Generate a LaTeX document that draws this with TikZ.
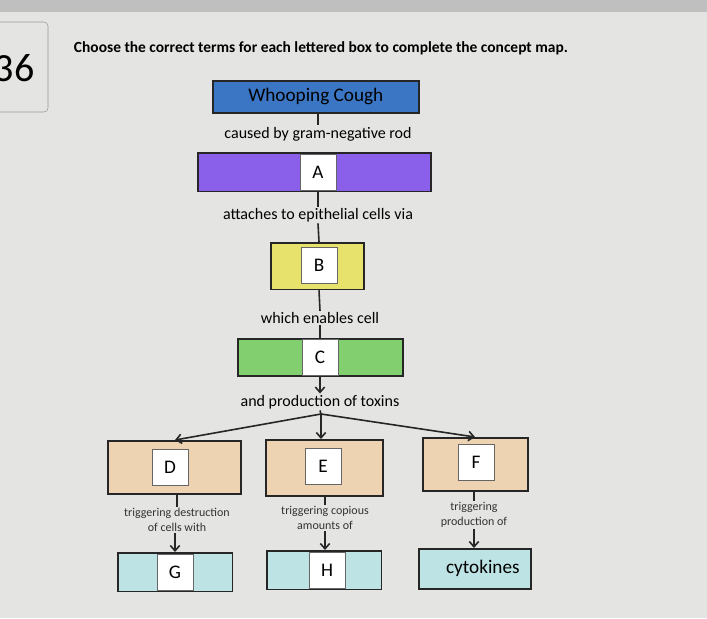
\documentclass[tikz,border=0pt]{standalone}
\usepackage{fontspec}
\setmainfont{Carlito}
\usetikzlibrary{arrows.meta}
\definecolor{bg}{HTML}{E4E4E2}
\definecolor{wc}{HTML}{3B76C4}
\definecolor{pa}{HTML}{8A5FEA}
\definecolor{yb}{HTML}{E6E26C}
\definecolor{gb}{HTML}{82CF70}
\definecolor{tb}{HTML}{EDD3B2}
\definecolor{lb}{HTML}{BEE3E4}
\tikzset{
 outer/.style={draw=black!85,line width=1.2pt,anchor=north west,inner sep=0pt},
 inner/.style={draw=black!60,fill=white,minimum width=27pt,minimum height=27pt,font=\Large},
 lbl/.style={font=\large,inner sep=1pt},
 slbl/.style={font=\small,align=center,inner sep=1pt,text=black!80},
 ln/.style={line width=1.2pt,black!85},
 ar/.style={ln,-{Straight Barb[length=4pt,width=7pt]}}
}
\begin{document}
\begin{tikzpicture}[x=0.75pt,y=-0.75pt]
\useasboundingbox (0,0) rectangle (707,618);
\fill[bg] (0,0) rectangle (707,618);
\fill[black!25] (0,0) rectangle (707,12);
\draw[black!40,rounded corners=3pt] (-10,22) rectangle (48,112);
\node[font=\fontsize{30}{30}\selectfont] (n36) at (14,68) {36};
\node[font=\fontsize{11.6}{13}\selectfont\bfseries] (q) at (321,48) {Choose the correct terms for each lettered box to complete the concept map.};
% Whooping Cough
\node[outer,fill=wc,minimum width=154.5pt,minimum height=24pt,font=\Large] (wc) at (212,80) {Whooping Cough};
\node[lbl] (t1) at (318,134) {caused by gram-negative rod};
% A
\node[outer,fill=pa,minimum width=175pt,minimum height=29pt] (a) at (197,152) {};
\node[inner] (ai) at (318,172) {A};
\node[lbl] (t2) at (318,215) {attaches to epithelial cells via};
% B
\node[outer,fill=yb,minimum width=70pt,minimum height=35pt] (b) at (270,242) {};
\node[inner] (bi) at (319,265) {B};
\node[lbl] (t3) at (320,318) {which enables cell};
% C
\node[outer,fill=gb,minimum width=124pt,minimum height=28pt] (c) at (237,338) {};
\node[inner] (ci) at (320,357) {C};
\node[lbl] (t4) at (320,402) {and production of toxins};
\coordinate (br) at (321,414);
% D E F
\node[outer,fill=tb,minimum width=100pt,minimum height=40pt] (d) at (107,440) {};
\node[inner] (di) at (170,467) {D};
\node[outer,fill=tb,minimum width=88pt,minimum height=42pt] (e) at (265,439) {};
\node[inner] (ei) at (323,466) {E};
\node[outer,fill=tb,minimum width=79pt,minimum height=40pt] (f) at (422,437) {};
\node[inner] (fi) at (476,462) {F};
\node[slbl] (t5) at (177,520) {triggering destruction\\of cells with};
\node[slbl] (t6) at (325,518) {triggering copious\\amounts of};
\node[slbl] (t7) at (474,515) {triggering\\production of};
% G H cytokines
\node[outer,fill=lb,minimum width=86pt,minimum height=29pt] (g) at (117,552) {};
\node[inner] (gi) at (175,572) {G};
\node[outer,fill=lb,minimum width=86pt,minimum height=29pt] (h) at (266,550) {};
\node[inner] (hi) at (327,570) {H};
\node[outer,fill=lb,minimum width=84pt,minimum height=30pt,font=\Large] (cy) at (418,548) {\hspace{12pt}cytokines\hspace{12pt}};
% connectors
\draw[ln] (wc.south -| t1) -- (t1.north);
\draw[ln] (a.south -| ai) -- (t2.north);
\draw[ln] (t2.south) -- (b.north -| bi);
\draw[ln] (b.south -| bi) -- (t3.north);
\draw[ln] (t3.south) -- (c.north -| ci);
\draw[ar] (c.south -| ci) -- (t4.north);
\draw[ln] (t4.south) -- (br);
\draw[ar] (br) -- (175,440);
\draw[ar] (br) -- (321,439);
\draw[ar] (br) -- (475,437);
\draw[ln] (d.south -| 177,0) -- (t5.north);
\draw[ln] (e.south -| 325,0) -- (t6.north);
\draw[ln] (f.south -| 474,0) -- (t7.north);
\draw[ar] (t5.south -| 175,0) -- (g.north -| 175,0);
\draw[ar] (t6.south -| 325,0) -- (h.north -| 325,0);
\draw[ar] (t7.south -| 474,0) -- (cy.north -| 474,0);
\end{tikzpicture}
\end{document}
